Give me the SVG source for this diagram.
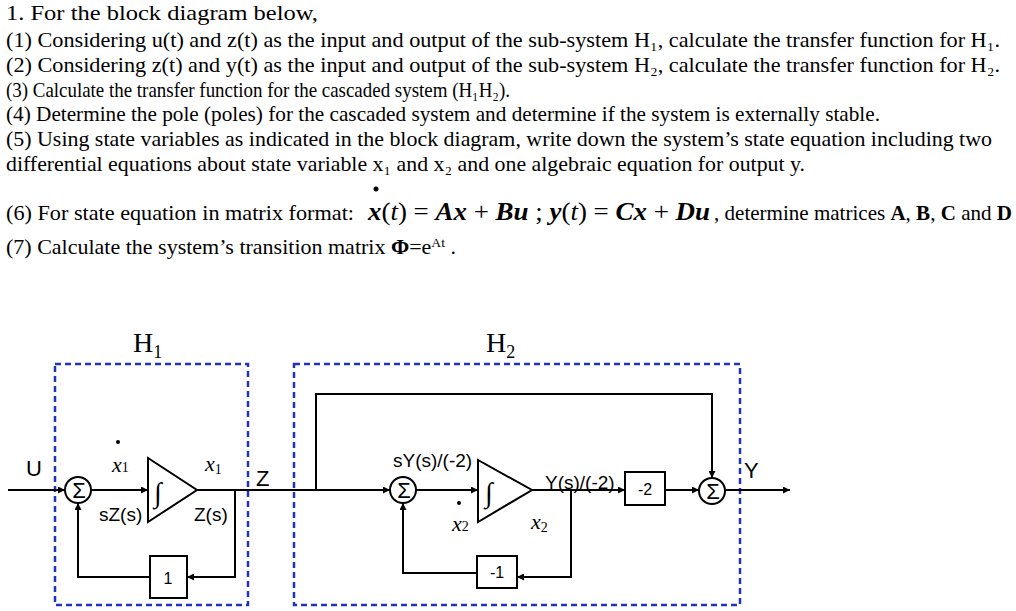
<svg xmlns="http://www.w3.org/2000/svg" width="1016" height="611" viewBox="0 0 1016 611">
<defs>
<marker id="ar" viewBox="0 0 10 10" refX="10" refY="5" markerWidth="7" markerHeight="7" markerUnits="userSpaceOnUse" orient="auto"><path d="M0,0L10,5L0,10z" fill="#000"/></marker>
</defs>
<style>
.q{font-family:"Liberation Serif",serif;font-size:21px;fill:#000}
.s{font-family:"Liberation Sans",Arial,sans-serif;font-size:19px;fill:#000}
.v{font-family:"Liberation Serif",serif;font-size:22px;font-style:italic;fill:#000}
.h{font-family:"Liberation Serif",serif;font-size:28px;fill:#000}
.ln{fill:none;stroke:#000;stroke-width:2}
.bx{fill:#fff;stroke:#000;stroke-width:2}
.dash{fill:none;stroke:#2233bb;stroke-width:2.5;stroke-dasharray:6,4}
</style>
<rect width="1016" height="611" fill="#fff"/>
<g id="question">
<text class="q" x="6" y="20" textLength="312" lengthAdjust="spacingAndGlyphs">1.  For the block diagram below,</text>
<text class="q" x="6" y="47" textLength="994" lengthAdjust="spacingAndGlyphs">(1) Considering u(t) and z(t) as the input and output of the sub-system H₁, calculate the transfer function for H₁.</text>
<text class="q" x="6" y="72" textLength="994" lengthAdjust="spacingAndGlyphs">(2) Considering z(t) and y(t) as the input and output of the sub-system H₂, calculate the transfer function for H₂.</text>
<text class="q" x="6" y="97" textLength="504" lengthAdjust="spacingAndGlyphs">(3) Calculate the transfer function for the cascaded system (H₁H₂).</text>
<text class="q" x="6" y="121" textLength="874" lengthAdjust="spacingAndGlyphs">(4) Determine the pole (poles) for the cascaded system and determine if the system is externally stable.</text>
<text class="q" x="6" y="146" textLength="986" lengthAdjust="spacingAndGlyphs">(5) Using state variables as indicated in the block diagram, write down the system’s state equation including two</text>
<text class="q" x="6" y="171" textLength="799" lengthAdjust="spacingAndGlyphs">differential equations about state variable x₁ and x₂ and one algebraic equation for output y.</text>
<text class="q" x="6" y="220" textLength="348" lengthAdjust="spacingAndGlyphs">(6) For state equation in matrix format:</text>
<circle cx="376" cy="189" r="2.5" fill="#000"/>
<text x="368" y="220" style="font-family:'Liberation Serif',serif;font-size:26px;font-weight:bold;font-style:italic" textLength="342" lengthAdjust="spacingAndGlyphs">x<tspan style="font-weight:normal;font-style:normal">(</tspan><tspan style="font-weight:normal">t</tspan><tspan style="font-weight:normal;font-style:normal">) = </tspan>Ax<tspan style="font-weight:normal;font-style:normal"> + </tspan>Bu<tspan style="font-weight:normal;font-style:normal"> ; </tspan>y<tspan style="font-weight:normal;font-style:normal">(</tspan><tspan style="font-weight:normal">t</tspan><tspan style="font-weight:normal;font-style:normal">) = </tspan>Cx<tspan style="font-weight:normal;font-style:normal"> + </tspan>Du</text>
<text class="q" x="714" y="220" textLength="298" lengthAdjust="spacingAndGlyphs">, determine matrices <tspan style="font-weight:bold">A</tspan>, <tspan style="font-weight:bold">B</tspan>, <tspan style="font-weight:bold">C</tspan> and <tspan style="font-weight:bold">D</tspan></text>
<text class="q" x="6" y="254" textLength="450" lengthAdjust="spacingAndGlyphs">(7) Calculate the system’s transition matrix <tspan style="font-weight:bold">Φ</tspan>=e<tspan style="font-size:13px" dy="-7">At</tspan><tspan dy="7"> .</tspan></text>
</g>
<g id="H1">
<rect class="dash" x="55" y="364" width="193" height="241"/>
<text class="h" x="133" y="352">H<tspan style="font-size:18px" dy="6">1</tspan></text>
</g>
<g id="H2">
<rect class="dash" x="294" y="364" width="446" height="241"/>
<text class="h" x="486" y="352">H<tspan style="font-size:18px" dy="6">2</tspan></text>
</g>
<g id="connectors">
<line class="ln" x1="8" y1="490" x2="65" y2="490" marker-end="url(#ar)"/>
<line class="ln" x1="91" y1="490" x2="148" y2="490" marker-end="url(#ar)"/>
<polyline class="ln" points="197,490 390,490" marker-end="url(#ar)"/>
<polyline class="ln" points="235,490 235,577 187,577" marker-end="url(#ar)"/>
<polyline class="ln" points="150,577 78,577 78,503" marker-end="url(#ar)"/>
<polyline class="ln" points="316,490 316,394 712,394 712,478" marker-end="url(#ar)"/>
<line class="ln" x1="416" y1="490" x2="478" y2="490" marker-end="url(#ar)"/>
<line class="ln" x1="532" y1="490" x2="625" y2="490" marker-end="url(#ar)"/>
<polyline class="ln" points="571,490 571,577 517,577" marker-end="url(#ar)"/>
<polyline class="ln" points="477,573 403,573 403,503" marker-end="url(#ar)"/>
<line class="ln" x1="665" y1="490" x2="699" y2="490" marker-end="url(#ar)"/>
<line class="ln" x1="725" y1="490" x2="790" y2="490" marker-end="url(#ar)"/>
</g>
<g id="sum1"><circle class="bx" cx="78" cy="490" r="13"/><text class="s" x="79" y="498" text-anchor="middle" style="font-size:22px">Σ</text></g>
<g id="int1"><polygon class="bx" points="148,458 197,490 148,522"/><text class="v" x="154" y="502" style="font-style:normal;font-size:28px">∫</text></g>
<g id="gain1"><rect class="bx" x="150" y="556" width="37" height="42"/><text class="s" x="168" y="584" text-anchor="middle" style="font-size:16px">1</text></g>
<g id="sum2"><circle class="bx" cx="403" cy="490" r="13"/><text class="s" x="404" y="498" text-anchor="middle" style="font-size:22px">Σ</text></g>
<g id="int2"><polygon class="bx" points="478,460 532,490 478,522"/><text class="v" x="485" y="502" style="font-style:normal;font-size:28px">∫</text></g>
<g id="gainm1"><rect class="bx" x="477" y="556" width="40" height="32"/><text class="s" x="497" y="578" text-anchor="middle" style="font-size:16px">-1</text></g>
<g id="gainm2"><rect class="bx" x="625" y="472" width="40" height="33"/><text class="s" x="645" y="495" text-anchor="middle" style="font-size:16px">-2</text></g>
<g id="sum3"><circle class="bx" cx="712" cy="491" r="13"/><text class="s" x="713" y="499" text-anchor="middle" style="font-size:22px">Σ</text></g>
<g id="labels">
<text class="s" x="26" y="476" style="font-size:22px">U</text>
<text class="s" x="256" y="486" style="font-size:22px">Z</text>
<text class="s" x="744" y="478" style="font-size:22px">Y</text>
<circle cx="118" cy="442" r="2" fill="#000"/>
<text class="v" x="112" y="472">x<tspan style="font-size:14px;font-style:normal">1</tspan></text>
<text class="v" x="205" y="471">x<tspan style="font-size:14px;font-style:normal" dy="3">1</tspan></text>
<text class="s" x="99" y="521">sZ(s)</text>
<text class="s" x="194" y="521">Z(s)</text>
<text class="s" x="393" y="467">sY(s)/(-2)</text>
<text class="s" x="545" y="489">Y(s)/(-2)</text>
<circle cx="459" cy="503" r="2" fill="#000"/>
<text class="v" x="452" y="531">x<tspan style="font-size:14px;font-style:normal">2</tspan></text>
<text class="v" x="531" y="529">x<tspan style="font-size:14px;font-style:normal" dy="3">2</tspan></text>
</g>
</svg>
